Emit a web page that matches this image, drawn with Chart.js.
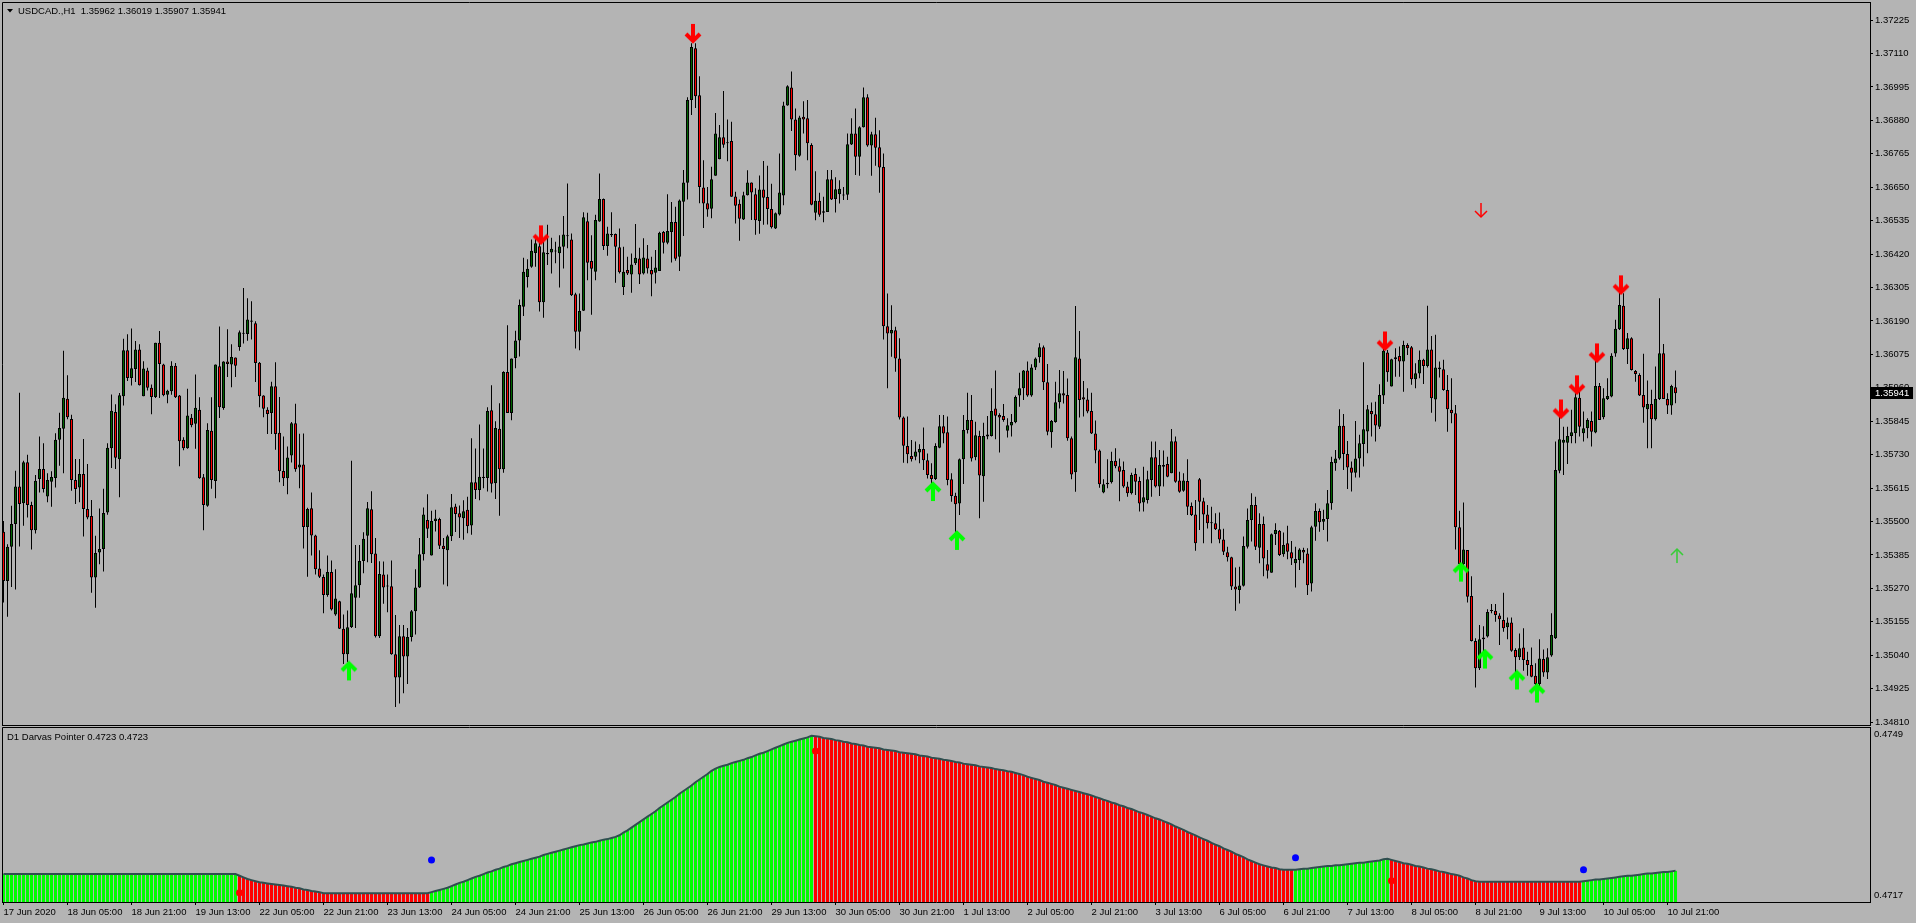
<!DOCTYPE html>
<html>
<head>
<meta charset="utf-8">
<title>USDCAD.,H1</title>
<script src="https://cdn.jsdelivr.net/npm/chart.js@4.4.1/dist/chart.umd.min.js"></script>
<style>
  html, body { margin: 0; padding: 0; background: #b4b4b4; }
  #wrap { position: relative; width: 1916px; height: 923px; overflow: hidden; }
  #main { position: absolute; left: 0; top: 0; }
  #ind { position: absolute; left: 0; top: 727px; }
</style>
</head>
<body>
<div id="wrap">
  <canvas id="main" width="1916" height="727"></canvas>
  <canvas id="ind" width="1916" height="196"></canvas>
</div>
<script>
// ---- USDCAD H1, 17 Jun 2020 13:00 .. 10 Jul 2020 23:00 (one value per hourly bar) ----
const symbol = 'USDCAD.';
const timeframe = 'H1';

const opens = [
  1.35465,1.35295,1.35413,1.35491,1.35620,1.35563,1.35704,1.35557,1.35470,1.35646,
  1.35681,1.35586,1.35637,1.35650,1.35781,1.35819,1.35922,1.35853,1.35643,1.35617,
  1.35663,1.35543,1.35519,1.35307,1.35393,1.35405,1.35531,1.35752,1.35877,1.35714,
  1.35931,1.36089,1.35994,1.36025,1.36092,1.35931,1.36019,1.35960,1.35928,1.36115,
  1.36040,1.35936,1.35948,1.36036,1.35933,1.35781,1.35752,1.35857,1.35836,1.35884,
  1.35652,1.35554,1.35812,1.35639,1.36034,1.35890,1.36050,1.36040,1.36064,1.36100,
  1.36146,1.36145,1.36187,1.36182,1.36046,1.35933,1.35884,1.35873,1.35965,1.35805,
  1.35674,1.35649,1.35727,1.35838,1.35686,1.35696,1.35481,1.35546,1.35452,1.35338,
  1.35309,1.35247,1.35326,1.35180,1.35226,1.35131,1.35043,1.35137,1.35238,1.35281,
  1.35364,1.35451,1.35542,1.35390,1.35105,1.35318,1.35278,1.35277,1.35043,1.34963,
  1.35105,1.35036,1.35103,1.35191,1.35273,1.35387,1.35505,1.35383,1.35502,1.35509,
  1.35417,1.35401,1.35449,1.35552,1.35528,1.35511,1.35540,1.35486,1.35635,1.35608,
  1.35654,1.35650,1.35883,1.35632,1.35819,1.35680,1.36014,1.35873,1.36062,1.36123,
  1.36239,1.36341,1.36376,1.36424,1.36447,1.36254,1.36419,1.36425,1.36429,1.36423,
  1.36445,1.36481,1.36470,1.36282,1.36153,1.36225,1.36533,1.36396,1.36359,1.36532,
  1.36609,1.36448,1.36485,1.36489,1.36443,1.36307,1.36365,1.36350,1.36388,1.36405,
  1.36353,1.36405,1.36365,1.36356,1.36362,1.36496,1.36459,1.36496,1.36530,1.36411,
  1.36600,1.36665,1.36950,1.37128,1.36966,1.36649,1.36595,1.36576,1.36689,1.36746,
  1.36822,1.36804,1.36809,1.36618,1.36593,1.36539,1.36622,1.36666,1.36626,1.36534,
  1.36642,1.36616,1.36575,1.36508,1.36556,1.36621,1.36931,1.36993,1.36883,1.36758,
  1.36892,1.36887,1.36795,1.36562,1.36603,1.36567,1.36565,1.36677,1.36609,1.36626,
  1.36624,1.36624,1.36797,1.36835,1.36755,1.36856,1.36959,1.36793,1.36832,1.36787,
  1.36719,1.36172,1.36147,1.36158,1.36061,1.35858,1.35760,1.35725,1.35723,1.35737,
  1.35749,1.35711,1.35660,1.35646,1.35754,1.35828,1.35807,1.35645,1.35589,1.35562,
  1.35714,1.35815,1.35849,1.35721,1.35794,1.35656,1.35792,1.35794,1.35889,1.35866,
  1.35863,1.35812,1.35830,1.35841,1.35933,1.35958,1.36019,1.35933,1.36030,1.36065,
  1.36099,1.35979,1.35807,1.35842,1.35910,1.35941,1.35935,1.35786,1.35669,1.36061,
  1.35927,1.35920,1.35880,1.35803,1.35744,1.35600,1.35628,1.35635,1.35709,1.35690,
  1.35677,1.35620,1.35597,1.35663,1.35639,1.35565,1.35574,1.35643,1.35721,1.35620,
  1.35688,1.35698,1.35666,1.35776,1.35641,1.35606,1.35639,1.35553,1.35524,1.35645,
  1.35570,1.35524,1.35496,1.35494,1.35473,1.35438,1.35394,1.35377,1.35276,1.35264,
  1.35279,1.35413,1.35505,1.35557,1.35410,1.35491,1.35353,1.35324,1.35457,1.35468,
  1.35387,1.35425,1.35394,1.35356,1.35368,1.35402,1.35390,1.35287,1.35482,1.35536,
  1.35499,1.35509,1.35563,1.35700,1.35717,1.35829,1.35732,1.35686,1.35668,1.35717,
  1.35767,1.35810,1.35880,1.35869,1.35826,1.35933,1.36081,1.35964,1.36058,1.36069,
  1.36050,1.36107,1.36099,1.35989,1.36009,1.36056,1.36035,1.36092,1.35920,1.36030,
  1.36024,1.35952,1.35884,1.35872,1.35480,1.35354,1.35402,1.35244,1.35089,1.34995,
  1.35095,1.35104,1.35192,1.35193,1.35177,1.35161,1.35136,1.35153,1.35058,1.35033,
  1.35067,1.35024,1.35006,1.34969,1.34941,1.35027,1.34981,1.35039,1.35098,1.35675,
  1.35771,1.35771,1.35794,1.35804,1.35926,1.35804,1.35821,1.35846,1.35806,1.35966,
  1.35859,1.35921,1.35930,1.36078,1.36161,1.36242,1.36093,1.36130,1.36018,1.36004,
  1.35935,1.35886,1.35904,1.35852,1.35921,1.36079,1.35921,1.35899,1.35962
];
const highs = [
  1.35502,1.35422,1.35554,1.35675,1.35943,1.35709,1.35730,1.35568,1.35660,1.35792,
  1.35769,1.35666,1.35673,1.35804,1.35874,1.36087,1.36003,1.35867,1.35715,1.35715,
  1.35784,1.35698,1.35574,1.35451,1.35545,1.35613,1.35769,1.35937,1.35903,1.35942,
  1.36129,1.36144,1.36164,1.36121,1.36110,1.36051,1.36029,1.35971,1.36115,1.36155,
  1.36043,1.35953,1.36051,1.36045,1.35935,1.35790,1.35957,1.35870,1.36006,1.35927,
  1.35663,1.35838,1.35927,1.36040,1.36171,1.36051,1.36161,1.36110,1.36064,1.36157,
  1.36303,1.36268,1.36258,1.36189,1.36049,1.35934,1.35893,1.35981,1.36048,1.35928,
  1.35792,1.35758,1.35842,1.35905,1.35802,1.35803,1.35547,1.35600,1.35454,1.35401,
  1.35318,1.35383,1.35366,1.35336,1.35227,1.35180,1.35194,1.35709,1.35419,1.35419,
  1.35463,1.35567,1.35604,1.35443,1.35363,1.35362,1.35318,1.35366,1.35178,1.35144,
  1.35144,1.35134,1.35196,1.35336,1.35443,1.35548,1.35594,1.35537,1.35540,1.35513,
  1.35443,1.35454,1.35595,1.35561,1.35555,1.35573,1.35585,1.35786,1.35751,1.35834,
  1.35751,1.35893,1.35969,1.35845,1.35907,1.36017,1.36175,1.36061,1.36156,1.36264,
  1.36407,1.36402,1.36470,1.36471,1.36468,1.36464,1.36521,1.36476,1.36462,1.36485,
  1.36551,1.36663,1.36491,1.36287,1.36284,1.36564,1.36562,1.36485,1.36555,1.36697,
  1.36611,1.36514,1.36564,1.36491,1.36508,1.36445,1.36411,1.36422,1.36523,1.36442,
  1.36474,1.36451,1.36411,1.36434,1.36497,1.36499,1.36626,1.36599,1.36583,1.36608,
  1.36709,1.36959,1.37145,1.37145,1.37032,1.36743,1.36651,1.36720,1.36905,1.36864,
  1.36981,1.36883,1.36875,1.36634,1.36608,1.36634,1.36708,1.36666,1.36646,1.36690,
  1.36740,1.36724,1.36662,1.36563,1.36766,1.36944,1.37001,1.37048,1.36921,1.36896,
  1.36946,1.36950,1.36801,1.36705,1.36631,1.36617,1.36709,1.36709,1.36684,1.36674,
  1.36651,1.36835,1.36887,1.36921,1.36860,1.36993,1.36970,1.36841,1.36889,1.36846,
  1.36766,1.36284,1.36244,1.36170,1.36130,1.35861,1.35861,1.35780,1.35775,1.35766,
  1.35823,1.35734,1.35700,1.35769,1.35866,1.35866,1.35861,1.35666,1.35599,1.35717,
  1.35866,1.35943,1.35935,1.35843,1.35812,1.35840,1.35863,1.35958,1.36019,1.35872,
  1.35904,1.35855,1.35870,1.35933,1.36012,1.36021,1.36050,1.36041,1.36064,1.36113,
  1.36105,1.36042,1.35849,1.35981,1.36021,1.36018,1.35992,1.35792,1.36241,1.36155,
  1.35983,1.35958,1.35943,1.35847,1.35748,1.35645,1.35714,1.35740,1.35752,1.35717,
  1.35706,1.35637,1.35668,1.35683,1.35654,1.35688,1.35675,1.35775,1.35775,1.35746,
  1.35744,1.35723,1.35818,1.35792,1.35671,1.35666,1.35714,1.35565,1.35574,1.35650,
  1.35582,1.35557,1.35551,1.35528,1.35531,1.35475,1.35413,1.35379,1.35342,1.35344,
  1.35448,1.35545,1.35597,1.35585,1.35528,1.35517,1.35402,1.35459,1.35494,1.35471,
  1.35462,1.35485,1.35433,1.35413,1.35408,1.35410,1.35408,1.35485,1.35563,1.35545,
  1.35540,1.35608,1.35723,1.35746,1.35886,1.35870,1.35777,1.35706,1.35846,1.35798,
  1.36048,1.35901,1.35909,1.35912,1.35972,1.36102,1.36090,1.36060,1.36096,1.36102,
  1.36122,1.36113,1.36104,1.36044,1.36088,1.36060,1.36242,1.36138,1.36142,1.36050,
  1.36056,1.36004,1.35993,1.35901,1.35537,1.35565,1.35402,1.35312,1.35098,1.35144,
  1.35140,1.35198,1.35216,1.35216,1.35184,1.35255,1.35170,1.35170,1.35064,1.35115,
  1.35133,1.35052,1.35067,1.35012,1.35095,1.35060,1.35064,1.35184,1.35775,1.35872,
  1.35826,1.35826,1.35884,1.35941,1.35950,1.35878,1.35855,1.35878,1.36056,1.35976,
  1.35958,1.35993,1.36079,1.36194,1.36291,1.36285,1.36148,1.36134,1.36021,1.36010,
  1.36077,1.35985,1.35953,1.36033,1.36268,1.36111,1.35941,1.35970,1.36019
];
const lows = [
  1.35221,1.35172,1.35275,1.35266,1.35414,1.35485,1.35514,1.35404,1.35459,1.35600,
  1.35600,1.35566,1.35551,1.35617,1.35692,1.35666,1.35852,1.35606,1.35560,1.35566,
  1.35448,1.35508,1.35255,1.35203,1.35353,1.35328,1.35523,1.35684,1.35681,1.35583,
  1.35899,1.35983,1.35968,1.35980,1.35968,1.35931,1.35951,1.35869,1.35925,1.35925,
  1.35931,1.35907,1.35936,1.35925,1.35690,1.35745,1.35750,1.35824,1.35750,1.35647,
  1.35470,1.35551,1.35613,1.35580,1.35856,1.35884,1.35997,1.35962,1.35997,1.36087,
  1.36112,1.36122,1.36126,1.35980,1.35893,1.35859,1.35801,1.35801,1.35747,1.35635,
  1.35622,1.35594,1.35703,1.35671,1.35614,1.35407,1.35310,1.35383,1.35318,1.35306,
  1.35184,1.35241,1.35194,1.35176,1.35130,1.35010,1.35016,1.35134,1.35134,1.35238,
  1.35322,1.35360,1.35357,1.35101,1.35099,1.35217,1.35188,1.35042,1.34862,1.34874,
  1.34909,1.34941,1.35087,1.35111,1.35271,1.35366,1.35443,1.35383,1.35466,1.35405,
  1.35283,1.35277,1.35433,1.35464,1.35443,1.35437,1.35460,1.35454,1.35577,1.35573,
  1.35614,1.35603,1.35600,1.35577,1.35520,1.35668,1.35873,1.35848,1.36027,1.36068,
  1.36207,1.36305,1.36373,1.36376,1.36222,1.36201,1.36382,1.36353,1.36388,1.36305,
  1.36370,1.36440,1.36276,1.36095,1.36089,1.36224,1.36330,1.36211,1.36330,1.36531,
  1.36434,1.36414,1.36479,1.36321,1.36353,1.36279,1.36348,1.36287,1.36382,1.36317,
  1.36350,1.36353,1.36275,1.36319,1.36362,1.36422,1.36454,1.36391,1.36397,1.36362,
  1.36482,1.36608,1.36898,1.36922,1.36595,1.36510,1.36548,1.36543,1.36689,1.36746,
  1.36786,1.36739,1.36617,1.36525,1.36466,1.36537,1.36621,1.36537,1.36486,1.36490,
  1.36521,1.36522,1.36508,1.36506,1.36553,1.36588,1.36930,1.36843,1.36707,1.36755,
  1.36835,1.36743,1.36588,1.36536,1.36548,1.36529,1.36565,1.36606,1.36563,1.36594,
  1.36606,1.36606,1.36795,1.36692,1.36689,1.36855,1.36789,1.36689,1.36724,1.36631,
  1.36126,1.35958,1.36067,1.36015,1.35851,1.35702,1.35700,1.35706,1.35711,1.35700,
  1.35677,1.35648,1.35620,1.35643,1.35752,1.35769,1.35625,1.35568,1.35465,1.35522,
  1.35629,1.35803,1.35706,1.35711,1.35511,1.35568,1.35783,1.35792,1.35783,1.35737,
  1.35843,1.35789,1.35792,1.35838,1.35895,1.35918,1.35929,1.35929,1.36021,1.36046,
  1.35952,1.35797,1.35754,1.35840,1.35889,1.35906,1.35778,1.35645,1.35602,1.35858,
  1.35861,1.35872,1.35801,1.35700,1.35616,1.35597,1.35614,1.35631,1.35683,1.35570,
  1.35616,1.35585,1.35593,1.35591,1.35534,1.35534,1.35562,1.35585,1.35617,1.35588,
  1.35620,1.35652,1.35666,1.35633,1.35599,1.35602,1.35522,1.35519,1.35399,1.35471,
  1.35425,1.35476,1.35425,1.35471,1.35425,1.35385,1.35362,1.35264,1.35193,1.35218,
  1.35276,1.35407,1.35431,1.35402,1.35356,1.35312,1.35304,1.35324,1.35419,1.35381,
  1.35379,1.35370,1.35350,1.35273,1.35333,1.35356,1.35247,1.35259,1.35434,1.35465,
  1.35471,1.35431,1.35540,1.35675,1.35712,1.35677,1.35612,1.35603,1.35651,1.35651,
  1.35689,1.35735,1.35792,1.35775,1.35818,1.35904,1.35981,1.35964,1.35998,1.35998,
  1.35946,1.36073,1.35970,1.35958,1.35993,1.35973,1.36030,1.35874,1.35844,1.35995,
  1.35950,1.35809,1.35838,1.35404,1.35333,1.35345,1.35221,1.35087,1.34929,1.34989,
  1.35035,1.35101,1.35184,1.35155,1.35075,1.35121,1.35095,1.35052,1.34978,1.35024,
  1.34987,1.34969,1.34964,1.34934,1.34932,1.34966,1.34958,1.35035,1.35096,1.35666,
  1.35660,1.35698,1.35769,1.35769,1.35792,1.35775,1.35786,1.35758,1.35804,1.35849,
  1.35852,1.35918,1.35927,1.36067,1.36159,1.36090,1.36042,1.36019,1.35981,1.35932,
  1.35840,1.35752,1.35752,1.35847,1.35918,1.35921,1.35870,1.35867,1.35907
];
const closes = [
  1.35295,1.35413,1.35491,1.35620,1.35560,1.35704,1.35557,1.35470,1.35640,1.35681,
  1.35612,1.35643,1.35653,1.35781,1.35822,1.35926,1.35859,1.35643,1.35612,1.35663,
  1.35543,1.35514,1.35307,1.35392,1.35405,1.35529,1.35754,1.35881,1.35719,1.35934,
  1.36089,1.35994,1.36027,1.36092,1.35969,1.36026,1.35960,1.35928,1.36115,1.36042,
  1.35934,1.35950,1.36036,1.35927,1.35776,1.35752,1.35865,1.35831,1.35891,1.35649,
  1.35557,1.35815,1.35643,1.36040,1.35893,1.36050,1.36042,1.36066,1.36036,1.36151,
  1.36149,1.36195,1.36191,1.36045,1.35931,1.35888,1.35870,1.35965,1.35801,1.35673,
  1.35649,1.35720,1.35838,1.35680,1.35696,1.35481,1.35543,1.35452,1.35336,1.35310,
  1.35247,1.35326,1.35197,1.35235,1.35131,1.35043,1.35136,1.35253,1.35281,1.35364,
  1.35441,1.35546,1.35387,1.35105,1.35319,1.35273,1.35276,1.35043,1.34963,1.35105,
  1.35036,1.35103,1.35191,1.35273,1.35387,1.35524,1.35475,1.35502,1.35510,1.35417,
  1.35405,1.35449,1.35549,1.35526,1.35514,1.35535,1.35484,1.35635,1.35608,1.35654,
  1.35650,1.35880,1.35630,1.35822,1.35680,1.36014,1.35873,1.36061,1.36123,1.36245,
  1.36359,1.36369,1.36431,1.36457,1.36254,1.36426,1.36424,1.36438,1.36432,1.36446,
  1.36487,1.36483,1.36278,1.36153,1.36224,1.36547,1.36390,1.36369,1.36537,1.36609,
  1.36448,1.36491,1.36489,1.36445,1.36357,1.36359,1.36353,1.36384,1.36407,1.36350,
  1.36408,1.36370,1.36350,1.36374,1.36493,1.36459,1.36499,1.36530,1.36404,1.36604,
  1.36666,1.36950,1.37132,1.36963,1.36651,1.36594,1.36573,1.36677,1.36835,1.36822,
  1.36796,1.36801,1.36617,1.36586,1.36541,1.36622,1.36666,1.36632,1.36536,1.36642,
  1.36614,1.36575,1.36512,1.36560,1.36632,1.36931,1.36997,1.36883,1.36760,1.36890,
  1.36883,1.36801,1.36590,1.36603,1.36555,1.36562,1.36677,1.36608,1.36643,1.36645,
  1.36621,1.36798,1.36835,1.36755,1.36856,1.36959,1.36793,1.36832,1.36786,1.36718,
  1.36172,1.36147,1.36159,1.36061,1.35858,1.35761,1.35731,1.35714,1.35741,1.35749,
  1.35711,1.35660,1.35646,1.35760,1.35828,1.35803,1.35643,1.35588,1.35559,1.35714,
  1.35815,1.35849,1.35717,1.35797,1.35658,1.35794,1.35799,1.35880,1.35864,1.35858,
  1.35849,1.35831,1.35842,1.35928,1.35958,1.36019,1.35933,1.36030,1.36061,1.36099,
  1.35979,1.35809,1.35846,1.35910,1.35941,1.35933,1.35786,1.35662,1.36065,1.35918,
  1.35920,1.35878,1.35803,1.35744,1.35628,1.35628,1.35633,1.35708,1.35690,1.35671,
  1.35620,1.35597,1.35660,1.35637,1.35562,1.35583,1.35645,1.35721,1.35620,1.35694,
  1.35694,1.35654,1.35776,1.35637,1.35602,1.35641,1.35551,1.35522,1.35425,1.35568,
  1.35524,1.35494,1.35494,1.35473,1.35438,1.35396,1.35377,1.35276,1.35266,1.35280,
  1.35416,1.35505,1.35557,1.35413,1.35491,1.35373,1.35331,1.35456,1.35471,1.35385,
  1.35419,1.35396,1.35373,1.35371,1.35404,1.35393,1.35281,1.35480,1.35536,1.35497,
  1.35509,1.35563,1.35705,1.35717,1.35829,1.35732,1.35686,1.35668,1.35717,1.35769,
  1.35817,1.35886,1.35869,1.35830,1.35935,1.36087,1.36013,1.36058,1.36065,1.36050,
  1.36107,1.36096,1.35989,1.36010,1.36056,1.36035,1.36092,1.35924,1.36030,1.36024,
  1.35952,1.35886,1.35872,1.35480,1.35354,1.35404,1.35241,1.35089,1.34995,1.35095,
  1.35101,1.35189,1.35195,1.35178,1.35164,1.35133,1.35153,1.35055,1.35033,1.35064,
  1.35024,1.35006,1.34966,1.34941,1.35029,1.34981,1.35033,1.35110,1.35677,1.35783,
  1.35781,1.35794,1.35807,1.35927,1.35826,1.35821,1.35849,1.35809,1.35966,1.35849,
  1.35924,1.35932,1.36070,1.36163,1.36245,1.36093,1.36130,1.36021,1.36007,1.35933,
  1.35892,1.35904,1.35852,1.35921,1.36079,1.35921,1.35899,1.35966,1.35941
];

// signal arrows on the price window (bar index, price at arrow centre)
const sellArrowBars   = [134, 172, 345, 389, 393, 398, 404];
const sellArrowPrices = [1.36486, 1.37179, 1.36121, 1.35887, 1.35970, 1.36080, 1.36314];
const buyArrowBars    = [86, 232, 238, 364, 370, 378, 383];
const buyArrowPrices  = [1.34986, 1.35603, 1.35435, 1.35326, 1.35027, 1.34955, 1.34910];
const thinSellBars    = [369];
const thinSellPrices  = [1.36570];
const thinBuyBars     = [418];
const thinBuyPrices   = [1.35383];

// price axis labels
const priceTicks = [1.37225,1.37110,1.36995,1.36880,1.36765,1.36650,1.36535,1.36420,1.36305,1.36190,1.36075,
                    1.35960,1.35845,1.35730,1.35615,1.35500,1.35385,1.35270,1.35155,1.35040,1.34925,1.34810];

// time axis labels, one every 16 bars
const timeLabels = ['17 Jun 2020','18 Jun 05:00','18 Jun 21:00','19 Jun 13:00','22 Jun 05:00','22 Jun 21:00',
  '23 Jun 13:00','24 Jun 05:00','24 Jun 21:00','25 Jun 13:00','26 Jun 05:00','26 Jun 21:00','29 Jun 13:00',
  '30 Jun 05:00','30 Jun 21:00','1 Jul 13:00','2 Jul 05:00','2 Jul 21:00','3 Jul 13:00','6 Jul 05:00',
  '6 Jul 21:00','7 Jul 13:00','8 Jul 05:00','8 Jul 21:00','9 Jul 13:00','10 Jul 05:00','10 Jul 21:00'];
const labelEvery = 16;

// D1 Darvas Pointer, one value per bar
const darvas = [
  0.47221,0.47221,0.47221,0.47221,0.47221,0.47221,0.47221,0.47221,0.47221,0.47221,
  0.47221,0.47221,0.47221,0.47221,0.47221,0.47221,0.47221,0.47221,0.47221,0.47221,
  0.47221,0.47221,0.47221,0.47221,0.47221,0.47221,0.47221,0.47221,0.47221,0.47221,
  0.47221,0.47221,0.47221,0.47221,0.47221,0.47221,0.47221,0.47221,0.47221,0.47221,
  0.47221,0.47221,0.47221,0.47221,0.47221,0.47221,0.47221,0.47221,0.47221,0.47221,
  0.47221,0.47221,0.47221,0.47221,0.47221,0.47221,0.47221,0.47221,0.47221,
  0.47218,0.47215,0.47212,0.47210,0.47208,0.47206,0.47205,0.47204,0.47203,0.47202,
  0.47201,0.47200,0.47199,0.47198,0.47196,0.47195,0.47193,0.47192,0.47190,0.47189,
  0.47188,0.47186,
  0.47186,0.47186,0.47186,0.47186,0.47186,0.47186,0.47186,0.47186,0.47186,0.47186,
  0.47186,0.47186,0.47186,0.47186,0.47186,0.47186,0.47186,0.47186,0.47186,0.47186,
  0.47186,0.47186,0.47186,0.47186,0.47186,0.47186,
  0.47188,0.47190,0.47192,0.47194,0.47196,0.47199,0.47202,0.47205,0.47207,0.47210,
  0.47213,0.47216,0.47218,0.47221,0.47224,0.47226,0.47229,0.47231,0.47234,0.47236,
  0.47239,0.47241,0.47243,0.47245,0.47247,0.47249,0.47251,0.47253,0.47256,0.47258,
  0.47260,0.47262,0.47264,0.47266,0.47268,0.47270,0.47272,0.47274,0.47275,0.47277,
  0.47279,0.47280,0.47282,0.47284,0.47285,0.47287,0.47289,0.47292,0.47297,0.47301,
  0.47306,0.47311,0.47316,0.47321,0.47326,0.47331,0.47336,0.47342,0.47347,0.47352,
  0.47357,0.47362,0.47368,0.47373,0.47378,0.47383,0.47389,0.47394,
  0.47399,0.47404,0.47410,0.47414,0.47417,0.47419,0.47421,0.47424,0.47426,0.47428,
  0.47430,0.47433,0.47435,0.47438,0.47441,0.47443,0.47446,0.47449,0.47452,0.47455,
  0.47458,0.47461,0.47463,0.47465,0.47467,0.47469,0.47471,0.47474,
  0.47473,0.47472,0.47470,0.47469,0.47468,0.47466,0.47465,0.47463,0.47462,0.47460,
  0.47459,0.47457,0.47456,0.47454,0.47453,0.47452,0.47451,0.47449,0.47448,0.47447,
  0.47446,0.47444,0.47443,0.47442,0.47441,0.47440,0.47438,0.47437,0.47436,0.47434,
  0.47433,0.47432,0.47430,0.47429,0.47428,0.47426,0.47425,0.47423,0.47422,0.47421,
  0.47420,0.47418,0.47417,0.47416,0.47415,0.47413,0.47412,0.47411,0.47409,0.47408,
  0.47406,0.47404,0.47402,0.47399,0.47397,0.47395,0.47393,0.47390,0.47388,0.47386,
  0.47384,0.47381,0.47379,0.47377,0.47375,0.47373,0.47371,0.47369,0.47367,0.47365,
  0.47362,0.47360,0.47357,0.47355,0.47352,0.47350,0.47347,0.47345,0.47342,0.47340,
  0.47337,0.47334,0.47332,0.47329,0.47326,0.47323,0.47321,0.47318,0.47315,0.47312,
  0.47308,0.47305,0.47302,0.47298,0.47295,0.47292,0.47288,0.47285,0.47282,0.47278,
  0.47275,0.47272,0.47268,0.47265,0.47262,0.47258,0.47255,0.47252,0.47248,0.47245,
  0.47242,0.47239,0.47237,0.47235,0.47233,0.47232,0.47230,0.47229,0.47229,0.47229,
  0.47229,0.47230,0.47231,0.47231,0.47232,0.47233,0.47234,0.47235,0.47236,0.47236,
  0.47237,0.47237,0.47238,0.47239,0.47240,0.47241,0.47242,0.47242,0.47243,0.47244,
  0.47245,0.47246,0.47248,0.47249,
  0.47247,0.47245,0.47243,0.47241,0.47240,0.47238,0.47236,0.47235,0.47233,0.47231,
  0.47230,0.47228,0.47226,0.47225,0.47223,0.47221,0.47220,0.47218,0.47215,0.47213,
  0.47210,0.47208,0.47207,
  0.47207,0.47207,0.47207,0.47207,0.47207,0.47207,0.47207,0.47207,0.47207,0.47207,
  0.47207,0.47207,0.47207,0.47207,0.47207,0.47207,0.47207,0.47207,0.47207,0.47207,
  0.47207,0.47207,0.47207,0.47207,0.47207,
  0.47208,0.47209,0.47210,0.47211,0.47211,0.47212,0.47213,0.47214,0.47215,0.47216,
  0.47217,0.47218,0.47218,0.47219,0.47220,0.47221,0.47222,0.47222,0.47223,0.47224,
  0.47225,0.47225,0.47226,0.47227
];
// trend segments of the indicator: first bar of each segment and its direction
const trendStart = [0, 59, 107, 203, 323, 347, 395];
const trendUp    = [true, false, true, false, true, false, true];
// turn markers
const redDotBars  = [59, 203, 347];
const redDotVals  = [0.47187, 0.47446, 0.47209];
const blueDotBars = [107, 323, 395];
const blueDotVals = [0.47247, 0.47251, 0.47229];

const IND_MIN = 0.4717, IND_MAX = 0.4749;
const PRICE_MIN = 1.34800, PRICE_MAX = 1.37287;
const X_MIN = -0.375, X_MAX = 466.625;   // 4 px per bar, room left on the right like MT4 chart shift

const BULL = '#006400', BEAR = '#ff0000';
const FONT = '"Liberation Sans", Arial, sans-serif';

Chart.defaults.font.family = FONT;
Chart.defaults.font.size = 9;
Chart.defaults.color = '#000';

function zeroPad(s) {
    s.paddingLeft = 0; s.paddingRight = 0; s.paddingTop = 0; s.paddingBottom = 0;
}

// arrow glyphs drawn once into small canvases, used as point styles
function makeArrow(color, down, thick) {
    const c = document.createElement('canvas');
    c.width = 25; c.height = 21;
    const g = c.getContext('2d');
    const cx = 14;
    const arm = thick ? 7 : 6;
    g.strokeStyle = color;
    g.lineWidth = thick ? 4 : 1.5;
    g.lineJoin = 'miter';
    const tip = down ? (thick ? 18 : 17) : (thick ? 3 : 4);
    const tail = down ? (thick ? 1 : 3) : (thick ? 20 : 18);
    const s = down ? 1 : -1;
    g.beginPath();
    g.moveTo(cx, tail);
    g.lineTo(cx, tip - s);
    g.stroke();
    g.beginPath();
    g.moveTo(cx - arm, tip - s * arm);
    g.lineTo(cx, tip);
    g.lineTo(cx + arm, tip - s * arm);
    g.stroke();
    return c;
}

const sellArrow = makeArrow('#ff0000', true, true);
const buyArrow = makeArrow('#00ff00', false, true);
const thinSell = makeArrow('#ff0000', true, false);
const thinBuy = makeArrow('#32cd32', false, false);

function pts(bars, vals) {
    return bars.map((b, k) => ({x: b, y: vals[k]}));
}

// ---------- price window ----------
const wickData = highs.map((h, i) => ({x: i, y: [lows[i], h]}));
const bodyData = opens.map((o, i) => ({x: i, y: [o, closes[i]]}));
const bodyColors = opens.map((o, i) => closes[i] >= o ? BULL : BEAR);

const mainDecor = {
    id: 'mainDecor',
    afterDraw(chart) {
        const {ctx, chartArea: a} = chart;
        const y = chart.scales.y;
        const n = closes.length - 1;
        ctx.save();
        ctx.strokeStyle = '#000';
        ctx.lineWidth = 1;
        ctx.beginPath();
        ctx.moveTo(a.left + 0.5, a.bottom + 1);
        ctx.lineTo(a.left + 0.5, a.top + 0.5);
        ctx.lineTo(a.right, a.top + 0.5);
        ctx.moveTo(a.left, a.bottom + 0.5);
        ctx.lineTo(a.right + 1, a.bottom + 0.5);
        ctx.stroke();

        ctx.fillStyle = '#000';
        ctx.beginPath();
        ctx.moveTo(7, 9); ctx.lineTo(13, 9); ctx.lineTo(10, 12.5);
        ctx.closePath();
        ctx.fill();
        ctx.font = '9.5px ' + FONT;
        ctx.textAlign = 'left';
        ctx.textBaseline = 'middle';
        ctx.fillText(symbol + ',' + timeframe + '  ' + opens[n].toFixed(5) + ' ' + highs[n].toFixed(5) + ' ' +
                     lows[n].toFixed(5) + ' ' + closes[n].toFixed(5), 18, 11);

        // last price box on the axis
        const py = Math.round(y.getPixelForValue(closes[n]));
        ctx.fillRect(a.right + 1, py - 6, 42, 12);
        ctx.fillStyle = '#fff';
        ctx.font = '9.5px ' + FONT;
        ctx.fillText(closes[n].toFixed(5), a.right + 5, py + 0.5);
        ctx.restore();
    }
};

new Chart(document.getElementById('main'), {
    type: 'bar',
    data: {
        datasets: [
            { type: 'line', data: pts(sellArrowBars, sellArrowPrices), showLine: false,
              pointStyle: sellArrow, pointRadius: 6, order: 0 },
            { type: 'line', data: pts(buyArrowBars, buyArrowPrices), showLine: false,
              pointStyle: buyArrow, pointRadius: 6, order: 0 },
            { type: 'line', data: pts(thinSellBars, thinSellPrices), showLine: false,
              pointStyle: thinSell, pointRadius: 6, order: 0 },
            { type: 'line', data: pts(thinBuyBars, thinBuyPrices), showLine: false,
              pointStyle: thinBuy, pointRadius: 6, order: 0 },
            { data: bodyData, backgroundColor: bodyColors, borderColor: '#000', borderWidth: 1,
              borderSkipped: false, barThickness: 3, maxBarThickness: 3, grouped: false,
              minBarLength: 1, inflateAmount: 0, order: 1 },
            { data: wickData, backgroundColor: '#000', borderWidth: 0, barThickness: 1,
              maxBarThickness: 1, grouped: false, inflateAmount: 0, order: 2 }
        ]
    },
    options: {
        responsive: false,
        animation: false,
        events: [],
        // no automatic room for point markers: plot area sits 2px inside the canvas like the terminal frame
        layout: { autoPadding: false, padding: { left: 2, top: 2, right: 0, bottom: 2 } },
        plugins: { legend: { display: false }, tooltip: { enabled: false } },
        scales: {
            x: { type: 'linear', display: false, min: X_MIN, max: X_MAX, offset: false, grid: { offset: false } },
            y: {
                type: 'linear', position: 'right', min: PRICE_MIN, max: PRICE_MAX, bounds: 'data',
                afterBuildTicks: s => { s.ticks = priceTicks.map(v => ({value: v})); },
                afterFit: s => { s.width = 46; zeroPad(s); },
                grid: { drawOnChartArea: false, drawTicks: true, tickLength: 3, color: '#000' },
                border: { display: true, color: '#000', width: 1 },
                ticks: { padding: 2, autoSkip: false, font: { size: 9.5, lineHeight: 0.2 },
                         callback: v => v.toFixed(5) }
            }
        }
    },
    plugins: [mainDecor]
});

// ---------- indicator window ----------
const histColors = darvas.map((v, i) => {
    let k = 0;
    while (k + 1 < trendStart.length && trendStart[k + 1] <= i) k++;
    return trendUp[k] ? '#00ff00' : '#ff0000';
});

const indDecor = {
    id: 'indDecor',
    afterDraw(chart) {
        const {ctx, chartArea: a} = chart;
        const last = darvas[darvas.length - 1].toFixed(4);
        ctx.save();
        ctx.strokeStyle = '#000';
        ctx.lineWidth = 1;
        ctx.beginPath();
        ctx.moveTo(a.left + 0.5, a.bottom);
        ctx.lineTo(a.left + 0.5, a.top + 0.5);
        ctx.lineTo(a.right + 1, a.top + 0.5);
        ctx.stroke();
        ctx.fillStyle = '#000';
        ctx.font = '9.5px ' + FONT;
        ctx.textAlign = 'left';
        ctx.textBaseline = 'middle';
        ctx.fillText('D1 Darvas Pointer ' + last + ' ' + last, 7, a.top + 10);
        ctx.fillText(IND_MAX.toFixed(4), a.right + 4, a.top + 7.5);
        ctx.fillText(IND_MIN.toFixed(4), a.right + 4, a.bottom - 6.5);
        ctx.restore();
    }
};

new Chart(document.getElementById('ind'), {
    type: 'bar',
    data: {
        datasets: [
            { type: 'line', data: pts(redDotBars, redDotVals), showLine: false, pointRadius: 3.5,
              pointBackgroundColor: '#ff0000', pointBorderWidth: 0, order: 0 },
            { type: 'line', data: pts(blueDotBars, blueDotVals), showLine: false, pointRadius: 3.5,
              pointBackgroundColor: '#0000ff', pointBorderWidth: 0, order: 0 },
            { type: 'line', data: darvas.map((v, i) => ({x: i, y: v})), borderColor: '#2f4f4f',
              borderWidth: 2, pointRadius: 0, tension: 0, order: 1 },
            { data: darvas.map((v, i) => ({x: i, y: [IND_MIN, v]})), backgroundColor: histColors,
              borderWidth: 0, barThickness: 3, maxBarThickness: 3, grouped: false, inflateAmount: 0, order: 2 }
        ]
    },
    options: {
        responsive: false,
        animation: false,
        events: [],
        layout: { autoPadding: false, padding: { left: 2, top: 0, right: 0, bottom: 0 } },
        plugins: { legend: { display: false }, tooltip: { enabled: false } },
        scales: {
            x: {
                type: 'linear', min: X_MIN, max: X_MAX, offset: false, bounds: 'data',
                afterBuildTicks: s => { s.ticks = timeLabels.map((t, k) => ({value: k * labelEvery})); },
                afterFit: s => { s.height = 21; zeroPad(s); },
                grid: { drawOnChartArea: false, drawTicks: true, tickLength: 3, color: '#000', offset: false },
                border: { display: true, color: '#000', width: 1 },
                ticks: { align: 'start', padding: 2, autoSkip: false, maxRotation: 0, font: { size: 9.5 },
                         callback: (v, k) => timeLabels[k] }
            },
            y: {
                type: 'linear', position: 'right', min: IND_MIN, max: IND_MAX, bounds: 'data',
                afterFit: s => { s.width = 46; zeroPad(s); },
                grid: { drawOnChartArea: false, drawTicks: false },
                border: { display: true, color: '#000', width: 1 },
                ticks: { display: false }
            }
        }
    },
    plugins: [indDecor]
});
</script>
</body>
</html>
